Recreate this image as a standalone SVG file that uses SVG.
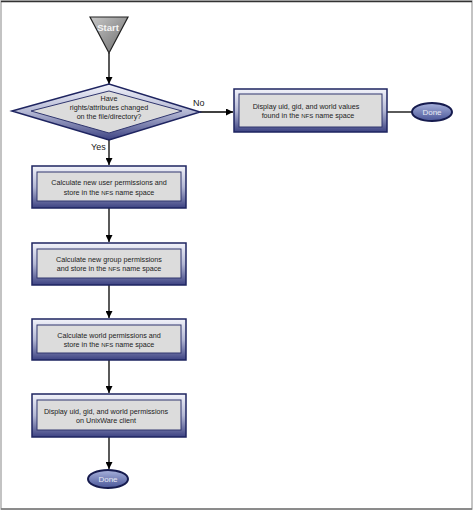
<svg xmlns="http://www.w3.org/2000/svg" width="474" height="511" viewBox="0 0 474 511">
<defs>
<linearGradient id="bevel" x1="0" y1="0" x2="0" y2="1">
<stop offset="0" stop-color="#f2f3fa"/>
<stop offset="0.5" stop-color="#b4b8d4"/>
<stop offset="1" stop-color="#3c4282"/>
</linearGradient>
<linearGradient id="tri" x1="0" y1="0" x2="1" y2="1">
<stop offset="0" stop-color="#c8c8c8"/>
<stop offset="1" stop-color="#6a6a6a"/>
</linearGradient>
<linearGradient id="oval" x1="0" y1="0" x2="0" y2="1">
<stop offset="0" stop-color="#a8b2dc"/>
<stop offset="1" stop-color="#4a5698"/>
</linearGradient>
<marker id="arr" viewBox="0 0 10 10" refX="10" refY="5" markerWidth="7" markerHeight="7" markerUnits="userSpaceOnUse" orient="auto">
<path d="M0,0 L10,5 L0,10 z" fill="#000"/>
</marker>
<style>
.outer{fill:url(#bevel);stroke:#1e2460;stroke-width:1.5}
.inner{fill:#dcdcdc;stroke:#30366e;stroke-width:1}
.t{font-family:"Liberation Sans",Arial,sans-serif;font-size:7.2px;fill:#222;text-anchor:middle}
.s{font-size:6px}
.lbl{font-family:"Liberation Sans",Arial,sans-serif;font-size:9px;fill:#222}
.conn{stroke:#000;stroke-width:1.3;fill:none}
.ov{fill:url(#oval);stroke:#161b4e;stroke-width:2}
.ot{font-family:"Liberation Sans",Arial,sans-serif;font-size:8px;fill:#e8eaf4;text-anchor:middle}
.st{font-family:"Liberation Sans",Arial,sans-serif;font-size:9.5px;font-weight:bold;fill:#f4f4f4;text-anchor:middle}
</style>
</defs>
<rect x="1" y="1" width="471" height="508" fill="#fff" stroke="#b0b0b0" stroke-width="1.5"/>
<line x1="1" y1="1.5" x2="472" y2="1.5" stroke="#333" stroke-width="1.5"/>
<line x1="1" y1="509" x2="472" y2="509" stroke="#555" stroke-width="1"/>

<g id="connectors">
<line class="conn" x1="109" y1="53" x2="109" y2="84" marker-end="url(#arr)"/>
<line class="conn" x1="200" y1="112" x2="233" y2="112" marker-end="url(#arr)"/>
<line class="conn" x1="387" y1="112" x2="412" y2="112"/>
<line class="conn" x1="109" y1="140" x2="109" y2="165" marker-end="url(#arr)"/>
<line class="conn" x1="109" y1="208" x2="109" y2="242" marker-end="url(#arr)"/>
<line class="conn" x1="109" y1="285" x2="109" y2="318" marker-end="url(#arr)"/>
<line class="conn" x1="109" y1="360" x2="109" y2="393" marker-end="url(#arr)"/>
<line class="conn" x1="109" y1="437" x2="109" y2="469" marker-end="url(#arr)"/>
<text class="lbl" x="193" y="106">No</text>
<text class="lbl" x="91" y="150">Yes</text>
</g>

<g id="start">
<polygon points="90,17 128,17 109,53" fill="url(#tri)" stroke="#222" stroke-width="1.2"/>
<text class="st" x="108" y="31">Start</text>
</g>

<g id="decision">
<polygon class="outer" points="12,111 109,84 200,112 109,140"/>
<polygon class="inner" points="31,111 109,91 182,111 109,133"/>
<text class="t" x="109" y="101">Have</text>
<text class="t" x="109" y="110">rights/attributes changed</text>
<text class="t" x="109" y="119">on the file/directory?</text>
</g>

<g id="display-values">
<rect class="outer" x="234" y="89" width="153" height="43"/>
<rect class="inner" x="239" y="94" width="143" height="33"/>
<text class="t" x="306" y="109">Display uid, gid, and world values</text>
<text class="t" x="308" y="118">found in the <tspan class="s">NFS</tspan> name space</text>
</g>

<g id="done-right">
<ellipse class="ov" cx="432" cy="112" rx="20" ry="9"/>
<text class="ot" x="432" y="115">Done</text>
</g>

<g id="user-perm">
<rect class="outer" x="32" y="166" width="154" height="42"/>
<rect class="inner" x="37" y="172" width="144" height="29"/>
<text class="t" x="109" y="185">Calculate new user permissions and</text>
<text class="t" x="109" y="194.5">store in the <tspan class="s">NFS</tspan> name space</text>
</g>

<g id="group-perm">
<rect class="outer" x="32" y="243" width="154" height="42"/>
<rect class="inner" x="37" y="249" width="144" height="29"/>
<text class="t" x="109" y="261.5">Calculate new group permissions</text>
<text class="t" x="109" y="271">and store in the <tspan class="s">NFS</tspan> name space</text>
</g>

<g id="world-perm">
<rect class="outer" x="32" y="319" width="154" height="41"/>
<rect class="inner" x="37" y="325" width="144" height="28"/>
<text class="t" x="109" y="338">Calculate world permissions and</text>
<text class="t" x="109" y="347">store in the <tspan class="s">NFS</tspan> name space</text>
</g>

<g id="display-perm">
<rect class="outer" x="32" y="394" width="154" height="43"/>
<rect class="inner" x="37" y="400" width="144" height="30"/>
<text class="t" x="106" y="414">Display uid, gid, and world permissions</text>
<text class="t" x="106" y="423">on UnixWare client</text>
</g>

<g id="done-bottom">
<ellipse class="ov" cx="108" cy="479" rx="20" ry="9"/>
<text class="ot" x="108" y="482">Done</text>
</g>
</svg>
